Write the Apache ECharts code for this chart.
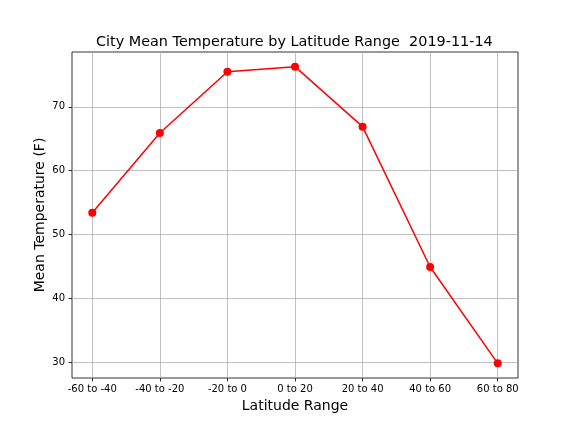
<!DOCTYPE html>
<html>
<head>
<meta charset="utf-8">
<script src="https://cdn.jsdelivr.net/npm/echarts@6/dist/echarts.min.js"></script>
<style>html,body{margin:0;padding:0;background:#fff}#c{width:576px;height:432px}</style>
</head>
<body>
<div id="c"></div>
<script>
var categories = ['-60 to -40', '-40 to -20', '-20 to 0', '0 to 20', '20 to 40', '40 to 60', '60 to 80'];
var meanTemps = [53.4, 65.9, 75.5, 76.3, 66.9, 44.9, 29.8];
var yTicks = [30, 40, 50, 60, 70];

var xIdx = categories.map(function (c, i) { return i; });
var seriesData = meanTemps.map(function (v, i) { return [i, v]; });
var font = 'DejaVu Sans';

var chart = echarts.init(document.getElementById('c'), null, { renderer: 'canvas' });
chart.setOption({
  animation: false,
  backgroundColor: '#ffffff',
  title: {
    text: 'City Mean Temperature by Latitude Range  2019-11-14',
    left: 91, top: 30,
    textStyle: { fontFamily: font, fontSize: 14.4, fontWeight: 'normal', color: '#000' }
  },
  grid: {
    left: 72, right: 58, top: 52, bottom: 54,
    show: true, borderColor: '#000', borderWidth: 0.8, backgroundColor: 'transparent'
  },
  xAxis: {
    type: 'value', min: -0.3, max: 6.3,
    name: 'Latitude Range', nameLocation: 'middle', nameGap: 21, nameMoveOverlap: false,
    nameTextStyle: { fontFamily: font, fontSize: 14, color: '#000' },
    axisLine: { show: false, onZero: false },
    axisTick: { show: true, length: 3.5, customValues: xIdx, lineStyle: { color: '#000', width: 0.8 } },
    axisLabel: {
      customValues: xIdx, margin: 6, fontFamily: font, fontSize: 10, color: '#000',
      formatter: function (v) { return categories[Math.round(v)]; }
    },
    splitLine: { show: true, lineStyle: { color: '#b0b0b0', width: 0.8 } }
  },
  yAxis: {
    type: 'value', min: 27.5, max: 78.6,
    name: 'Mean Temperature (F)', nameLocation: 'middle', nameGap: 25, nameRotate: 90, nameMoveOverlap: false,
    nameTextStyle: { fontFamily: font, fontSize: 14, color: '#000' },
    axisLine: { show: false, onZero: false },
    axisTick: { show: true, length: 3.5, customValues: yTicks, lineStyle: { color: '#000', width: 0.8 } },
    axisLabel: { customValues: yTicks, margin: 7, fontFamily: font, fontSize: 10, color: '#000' },
    splitLine: { show: true, lineStyle: { color: '#b0b0b0', width: 0.8 } }
  },
  series: [{
    type: 'line',
    data: seriesData,
    symbol: 'circle', symbolSize: 8,
    lineStyle: { color: '#ff0000', width: 1.5 },
    itemStyle: { color: '#ff0000' },
    z: 5
  }]
});
</script>
</body>
</html>
